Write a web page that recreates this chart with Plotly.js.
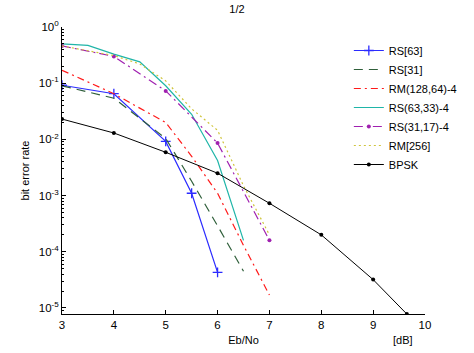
<!DOCTYPE html>
<html>
<head>
<meta charset="utf-8">
<script src="https://cdn.plot.ly/plotly-3.0.1.min.js"></script>
<style>html,body{margin:0;padding:0;background:#fff}#chart{width:474px;height:353px}</style>
</head>
<body>
<div id="chart"></div>
<script>
// Data
var rs63X = [3, 4, 5, 5.5, 6];
var rs63Y = [0.092, 0.065, 0.0092, 0.0011, 4.3e-5];

var rs31X = [3, 4, 5, 5.5, 6, 6.5];
var rs31Y = [0.09, 0.054, 0.0104, 0.0018, 2.9e-4, 4.5e-5];

var rm128X = [3, 4, 4.5, 5, 5.5, 6, 6.5, 7];
var rm128Y = [0.17, 0.065, 0.036, 0.02, 0.005, 0.0011, 1.3e-4, 1.7e-5];

var rs6333X = [3, 3.5, 4, 4.5, 5, 5.5, 6, 6.5];
var rs6333Y = [0.5, 0.47, 0.33, 0.24, 0.09, 0.028, 0.0042, 1.6e-4];

var rs3117X = [3, 4, 5, 6, 7];
var rs3117Y = [0.46, 0.3, 0.073, 0.0086, 1.6e-4];

var rm256X = [3, 4, 4.5, 5, 5.5, 6, 6.5, 7];
var rm256Y = [0.46, 0.31, 0.22, 0.11, 0.035, 0.0145, 0.0015, 2.0e-4];

var bpskX = [3, 4, 5, 6, 7, 8, 9, 9.65];
var bpskY = [0.023, 0.013, 0.0059, 0.0025, 7.3e-4, 2.0e-4, 3.2e-5, 7.8e-6];

var seriesNames = ["RS[63]", "RS[31]", "RM(128,64)-4", "RS(63,33)-4", "RS(31,17)-4", "RM[256]", "BPSK"];

var yTickVals = [1, 0.1, 0.01, 0.001, 1e-4, 1e-5];
var yTickText = ["10<sup>0</sup>", "10<sup>-1</sup>", "10<sup>-2</sup>", "10<sup>-3</sup>", "10<sup>-4</sup>", "10<sup>-5</sup>"];
var xTickVals = [3, 4, 5, 6, 7, 8, 9, 10];

var traces = [
  {x: rs63X, y: rs63Y, name: seriesNames[0], mode: 'lines+markers',
   line: {color: '#2b2bff', width: 1.2},
   marker: {symbol: 'cross-thin-open', size: 7, color: '#2b2bff', line: {color: '#2b2bff', width: 1.3}}},
  {x: rs31X, y: rs31Y, name: seriesNames[1], mode: 'lines',
   line: {color: '#2f5f3a', width: 1.2, dash: '9px,6px'}},
  {x: rm128X, y: rm128Y, name: seriesNames[2], mode: 'lines',
   line: {color: '#ff1a1a', width: 1.2, dash: '7px,4px,2px,4px'}},
  {x: rs6333X, y: rs6333Y, name: seriesNames[3], mode: 'lines',
   line: {color: '#1fb5a8', width: 1.2}},
  {x: rs3117X, y: rs3117Y, name: seriesNames[4], mode: 'lines+markers',
   line: {color: '#a020b0', width: 1.2, dash: '9px,4px,2px,4px'},
   marker: {symbol: 'circle', size: 4, color: '#a020b0'}},
  {x: rm256X, y: rm256Y, name: seriesNames[5], mode: 'lines',
   line: {color: '#cfc43a', width: 1.2, dash: '2px,3px'}},
  {x: bpskX, y: bpskY, name: seriesNames[6], mode: 'lines+markers',
   line: {color: '#000000', width: 1},
   marker: {symbol: 'circle', size: 4, color: '#000000'}}
];

var layout = {
  width: 474, height: 353,
  margin: {l: 62, r: 45, t: 27, b: 39},
  paper_bgcolor: '#fff', plot_bgcolor: '#fff',
  font: {family: 'Liberation Sans, Arial, sans-serif', size: 11, color: '#000'},
  title: {text: '1/2', x: 0.5, xanchor: 'center', y: 0.985, yanchor: 'top', font: {size: 11, color: '#000'}},
  showlegend: true,
  legend: {font: {size: 11}, bgcolor: 'rgba(0,0,0,0)', tracegroupgap: 0, itemwidth: 30,
           xanchor: 'left', yanchor: 'top',
           x: (352 - 62) / (474 - 62 - 45), y: 1 + (27 - 36) / (353 - 27 - 39)},
  xaxis: {
    range: [3, 10], tickvals: xTickVals, ticks: 'inside', ticklen: 4, tickcolor: '#000',
    showline: true, linecolor: '#000', linewidth: 1, showgrid: false, zeroline: false,
    title: {text: 'Eb/No', font: {size: 11}, standoff: 6}, tickfont: {size: 11.5}
  },
  yaxis: {
    type: 'log', range: [-5.107, 0], tickvals: yTickVals, ticktext: yTickText,
    ticks: 'inside', ticklen: 4, tickcolor: '#000',
    showline: true, linecolor: '#000', linewidth: 1, showgrid: false, zeroline: false,
    minor: {ticks: 'inside', ticklen: 2, tickcolor: '#000', dtick: 'D1', showgrid: false},
    title: {text: 'bit error rate', font: {size: 11}, standoff: 6}, tickfont: {size: 11.5}
  },
  annotations: [
    {text: '[dB]', xref: 'paper', yref: 'paper', x: 0.94, y: -0.062, xanchor: 'center', yanchor: 'top',
     showarrow: false, font: {size: 11}}
  ]
};

Plotly.newPlot('chart', traces, layout, {staticPlot: true, displayModeBar: false});
</script>
</body>
</html>
